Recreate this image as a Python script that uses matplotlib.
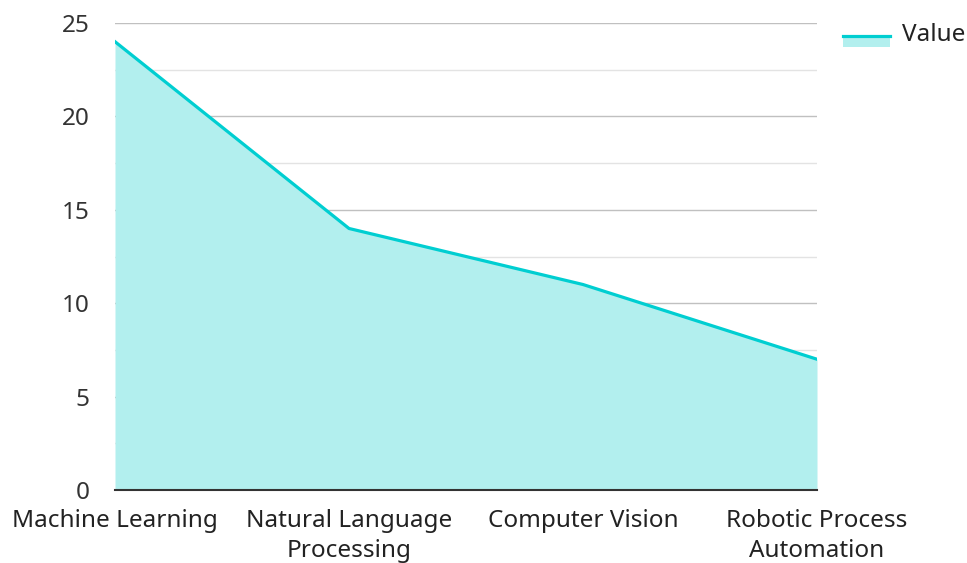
import matplotlib as mpl
mpl.use('Agg')
import matplotlib.pyplot as plt
from matplotlib.patches import Rectangle
from matplotlib.lines import Line2D

#
#--- chart data
#
categories = ['Machine Learning', 'Natural Language\nProcessing', 'Computer Vision', 'Robotic Process\nAutomation']
values     = [24, 14, 11, 7]
y_ticks    = [0, 5, 10, 15, 20, 25]
series     = 'Value'

line_col = '#00CED1'
fill_col = '#B2EFEE'
fsize    = 17.5

plt.rcParams['font.family'] = ['Noto Sans', 'DejaVu Sans']
plt.rcParams['font.size']   = fsize

fig = plt.figure(figsize=(9.67, 5.63), dpi=100)
W, H = 967.0, 563.0
ax = fig.add_axes([115 / W, (H - 490) / H, (817 - 115) / W, (490 - 23) / H])

x = list(range(len(categories)))
ax.fill_between(x, values, 0, color=fill_col, lw=0, zorder=2)
ax.plot(x, values, color=line_col, lw=2.3, zorder=3)

ax.set_xlim(0, len(categories) - 1)
ax.set_ylim(0, 25)
ax.set_yticks(y_ticks)
ax.set_yticks([2.5, 7.5, 12.5, 17.5, 22.5], minor=True)
ax.set_xticks(x)
ax.set_xticklabels(categories, linespacing=1.33)
ax.yaxis.grid(True, which='major', color='#c0c0c0', lw=1.0, zorder=1)
ax.yaxis.grid(True, which='minor', color='#e3e3e3', lw=1.0, zorder=1)
ax.set_axisbelow(True)

for s in ['top', 'right', 'left']:
    ax.spines[s].set_visible(False)
ax.spines['bottom'].set_color('#333333')
ax.spines['bottom'].set_linewidth(1.5)
ax.spines['bottom'].set_zorder(4)

ax.tick_params(axis='y', which='both', length=0, pad=18.5, colors='#333333', labelsize=fsize)
ax.tick_params(axis='x', length=0, pad=14, colors='#222222', labelsize=fsize)

#
#--- legend (line on top of a filled swatch)
#
fig.add_artist(Rectangle((843 / W, (H - 47) / H), 47 / W, 11 / H, transform=fig.transFigure,
                         facecolor=fill_col, edgecolor='none'))
fig.add_artist(Line2D([843 / W, 890 / W], [(H - 36) / H, (H - 36) / H], transform=fig.transFigure,
                      color=line_col, lw=2.3))
fig.text(902 / W, (H - 35) / H, series, ha='left', va='center', fontsize=fsize, color='#222222')

plt.savefig('out.png', dpi=100)
plt.close('all')
